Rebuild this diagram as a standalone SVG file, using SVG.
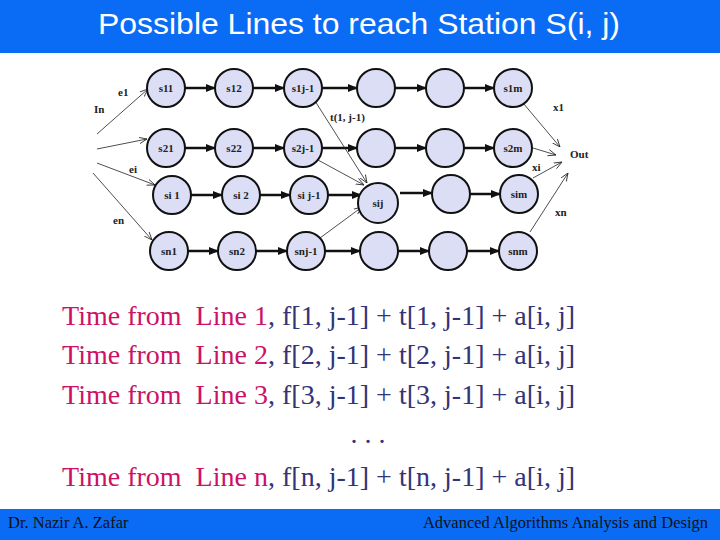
<svg xmlns="http://www.w3.org/2000/svg" width="720" height="540" viewBox="0 0 720 540">
<defs>
<style>
.node circle{fill:#dcdef6;stroke:#111;stroke-width:2}
.node text{font-family:"Liberation Serif",serif;font-size:11px;font-weight:bold;fill:#222;text-anchor:middle}
.thick{stroke:#111;stroke-width:2.5;fill:none;marker-end:url(#fa)}
.thin{stroke:#222;stroke-width:0.8;fill:none;marker-end:url(#oa)}
.lbl{font-family:"Liberation Serif",serif;font-size:11px;font-weight:bold;fill:#222}
.red{fill:#cc1166}
.blk{fill:#333377}
.main text{font-family:"Liberation Serif",serif;font-size:28px;white-space:pre}
.foot{font-family:"Liberation Serif",serif;font-size:16.5px;fill:#111}
</style>
<marker id="fa" viewBox="0 0 10 10" refX="9" refY="5" markerWidth="4" markerHeight="4" orient="auto" markerUnits="strokeWidth">
<path d="M0,1 L10,5 L0,9 z" fill="#111"/>
</marker>
<marker id="oa" viewBox="0 0 10 10" refX="10" refY="5" markerWidth="10" markerHeight="10" orient="auto" markerUnits="strokeWidth">
<path d="M0,1 L10,5 L0,9" fill="none" stroke="#222" stroke-width="1"/>
</marker>
</defs>
<rect x="0" y="0" width="720" height="540" fill="#ffffff"/>
<rect x="0" y="0" width="720" height="53" fill="#0a6cf5"/>
<text x="98" y="34" font-family="'Liberation Sans',Arial,sans-serif" font-size="30" fill="#ffffff" textLength="522" lengthAdjust="spacingAndGlyphs">Possible Lines to reach Station S(i, j)</text>

<g id="connectors">
<line class="thick" x1="185" y1="88" x2="215" y2="88"/>
<line class="thick" x1="253" y1="88" x2="284" y2="88"/>
<line class="thick" x1="322" y1="88" x2="357" y2="88"/>
<line class="thick" x1="395" y1="88" x2="426" y2="88"/>
<line class="thick" x1="464" y1="88" x2="494" y2="88"/>
<line class="thick" x1="185" y1="148" x2="215" y2="148"/>
<line class="thick" x1="253" y1="148" x2="284" y2="148"/>
<line class="thick" x1="322" y1="148" x2="357" y2="148"/>
<line class="thick" x1="395" y1="148" x2="426" y2="148"/>
<line class="thick" x1="464" y1="148" x2="494" y2="148"/>
<line class="thick" x1="191" y1="195" x2="222" y2="195"/>
<line class="thick" x1="260" y1="195" x2="290" y2="195"/>
<line class="thick" x1="328" y1="195" x2="361" y2="195"/>
<line class="thick" x1="400" y1="193" x2="432" y2="193"/>
<line class="thick" x1="470" y1="194" x2="500" y2="194"/>
<line class="thick" x1="188" y1="251" x2="218" y2="251"/>
<line class="thick" x1="256" y1="251" x2="287" y2="251"/>
<line class="thick" x1="325" y1="251" x2="360" y2="251"/>
<line class="thick" x1="398" y1="251" x2="429" y2="251"/>
<line class="thick" x1="467" y1="251" x2="499" y2="251"/>
<line class="thin" x1="97" y1="134" x2="148" y2="89"/>
<line class="thin" x1="97" y1="149" x2="147" y2="139"/>
<line class="thin" x1="97" y1="163" x2="155" y2="185"/>
<line class="thin" x1="93" y1="173" x2="152" y2="240"/>
<line class="thin" x1="315" y1="101" x2="367" y2="183"/>
<line class="thin" x1="318" y1="160" x2="364" y2="185"/>
<line class="thin" x1="320" y1="238" x2="362" y2="207"/>
<line class="thin" x1="518" y1="97" x2="560" y2="147"/>
<line class="thin" x1="533" y1="148" x2="556" y2="155"/>
<line class="thin" x1="533" y1="178" x2="562" y2="162"/>
<line class="thin" x1="530" y1="232" x2="568" y2="173"/>
</g>

<g id="s11" class="node"><circle cx="166" cy="88" r="19"/><text x="166" y="92">s11</text></g>
<g id="s12" class="node"><circle cx="234" cy="88" r="19"/><text x="234" y="92">s12</text></g>
<g id="s1j-1" class="node"><circle cx="303" cy="88" r="19"/><text x="303" y="92">s1j-1</text></g>
<g id="s1a" class="node"><circle cx="376" cy="88" r="19"/></g>
<g id="s1b" class="node"><circle cx="445" cy="88" r="19"/></g>
<g id="s1m" class="node"><circle cx="513" cy="88" r="19"/><text x="513" y="92">s1m</text></g>

<g id="s21" class="node"><circle cx="166" cy="148" r="19"/><text x="166" y="152">s21</text></g>
<g id="s22" class="node"><circle cx="234" cy="148" r="19"/><text x="234" y="152">s22</text></g>
<g id="s2j-1" class="node"><circle cx="303" cy="148" r="19"/><text x="303" y="152">s2j-1</text></g>
<g id="s2a" class="node"><circle cx="376" cy="148" r="19"/></g>
<g id="s2b" class="node"><circle cx="445" cy="148" r="19"/></g>
<g id="s2m" class="node"><circle cx="513" cy="148" r="19"/><text x="513" y="152">s2m</text></g>

<g id="si1" class="node"><circle cx="172" cy="195" r="19"/><text x="172" y="199">si 1</text></g>
<g id="si2" class="node"><circle cx="241" cy="195" r="19"/><text x="241" y="199">si 2</text></g>
<g id="sij-1" class="node"><circle cx="309" cy="195" r="19"/><text x="309" y="199">si j-1</text></g>
<g id="sij" class="node"><circle cx="378" cy="203" r="20"/><text x="378" y="207">sij</text></g>
<g id="sia" class="node"><circle cx="451" cy="194" r="19"/></g>
<g id="sim" class="node"><circle cx="519" cy="194" r="19"/><text x="519" y="198">sim</text></g>

<g id="sn1" class="node"><circle cx="169" cy="251" r="19"/><text x="169" y="255">sn1</text></g>
<g id="sn2" class="node"><circle cx="237" cy="251" r="19"/><text x="237" y="255">sn2</text></g>
<g id="snj-1" class="node"><circle cx="306" cy="251" r="19"/><text x="306" y="255">snj-1</text></g>
<g id="sna" class="node"><circle cx="379" cy="251" r="19"/></g>
<g id="snb" class="node"><circle cx="448" cy="251" r="19"/></g>
<g id="snm" class="node"><circle cx="518" cy="251" r="19"/><text x="518" y="255">snm</text></g>

<g id="labels">
<text class="lbl" x="118" y="96">e1</text>
<text class="lbl" x="94" y="113" font-weight="normal">In</text>
<text class="lbl" x="129" y="173">ei</text>
<text class="lbl" x="113" y="224">en</text>
<text class="lbl" x="330" y="121">t(1, j-1)</text>
<text class="lbl" x="553" y="111">x1</text>
<text class="lbl" x="570" y="158" font-weight="normal">Out</text>
<text class="lbl" x="532" y="171">xi</text>
<text class="lbl" x="555" y="216">xn</text>
</g>

<g id="formulas" class="main">
<text x="62" y="325" textLength="513" lengthAdjust="spacing"><tspan class="red">Time from  Line 1</tspan><tspan class="blk">, f[1, j-1] + t[1, j-1] + a[i, j]</tspan></text>
<text x="62" y="364" textLength="513" lengthAdjust="spacing"><tspan class="red">Time from  Line 2</tspan><tspan class="blk">, f[2, j-1] + t[2, j-1] + a[i, j]</tspan></text>
<text x="62" y="404" textLength="513" lengthAdjust="spacing"><tspan class="red">Time from  Line 3</tspan><tspan class="blk">, f[3, j-1] + t[3, j-1] + a[i, j]</tspan></text>
<text x="368" y="443" class="blk" text-anchor="middle">. . .</text>
<text x="62" y="486" textLength="513" lengthAdjust="spacing"><tspan class="red">Time from  Line n</tspan><tspan class="blk">, f[n, j-1] + t[n, j-1] + a[i, j]</tspan></text>
</g>

<rect x="0" y="509" width="720" height="31" fill="#0a6cf5"/>
<text class="foot" x="8" y="528">Dr. Nazir A. Zafar</text>
<text class="foot" x="708" y="528" text-anchor="end">Advanced Algorithms Analysis and Design</text>
</svg>
